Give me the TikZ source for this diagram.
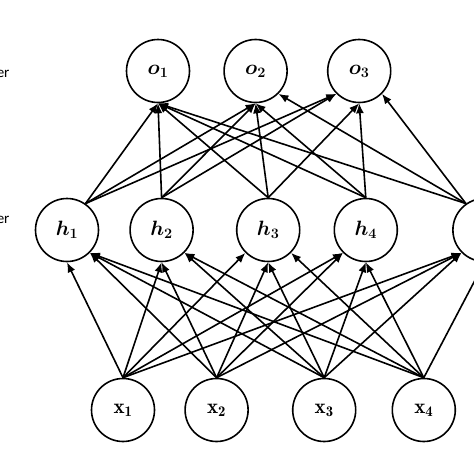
\documentclass[tikz,border=0pt]{standalone}
\usepackage{fontspec}
\usepackage{bm}
\newfontfamily\layerfont{Carlito}
\usetikzlibrary{arrows.meta,positioning}

\begin{document}
\begin{tikzpicture}[
		x=1pt, y=-1pt,
		neuron/.style={draw, circle, line width=1.6pt, minimum size=63pt, inner sep=0pt, font=\fontsize{21}{24}\selectfont},
		layer/.style={anchor=east, font=\layerfont\fontsize{15}{18}\selectfont},
		link/.style={line width=1.6pt, -{Latex[length=10pt,width=8pt]}}
	]
		\path[use as bounding box, clip] (0,0) rectangle (474,474);

		\node[layer] (lout) at (13,73) {Output layer};
		\node[layer] (lhid) at (13,219) {Hidden layer};

		\node[neuron] (o1) at (158,71) {$\bm{o_1}$};
		\node[neuron, right=33pt of o1] (o2) {$\bm{o_2}$};
		\node[neuron, right=39pt of o2] (o3) {$\bm{o_3}$};

		\node[neuron] (h1) at (67,230) {$\bm{h_1}$};
		\node[neuron, right=30pt of h1] (h2) {$\bm{h_2}$};
		\node[neuron, right=42pt of h2] (h3) {$\bm{h_3}$};
		\node[neuron, right=33pt of h3] (h4) {$\bm{h_4}$};
		\node[neuron, right=54pt of h4] (h5) {$\bm{h_5}$};

		\node[neuron] (x1) at (123,410) {$\mathbf{x_1}$};
		\node[neuron, right=29pt of x1] (x2) {$\mathbf{x_2}$};
		\node[neuron, right=43pt of x2] (x3) {$\mathbf{x_3}$};
		\node[neuron, right=35pt of x3] (x4) {$\mathbf{x_4}$};

		\foreach \i/\j/\a in {1/1/south, 2/1/south east, 3/1/south east, 4/1/south east,
				1/2/south, 2/2/south, 3/2/south east, 4/2/south east,
				1/3/south west, 2/3/south, 3/3/south, 4/3/south east,
				1/4/south west, 2/4/south west, 3/4/south, 4/4/south,
				1/5/south west, 2/5/south west, 3/5/south west, 4/5/south}
			\draw[link] (x\i.north) -- (h\j.\a);

		\foreach \j/\s/\b/\c/\d in {1/55/south/south/south west, 2/90/south/south/south west,
				3/90/south/south/south, 4/90/south/south/south, 5/125/south/south east/south east}
		{
			\draw[link] (h\j.\s) -- (o1.\b);
			\draw[link] (h\j.\s) -- (o2.\c);
			\draw[link] (h\j.\s) -- (o3.\d);
		}
	\end{tikzpicture}
\end{document}
